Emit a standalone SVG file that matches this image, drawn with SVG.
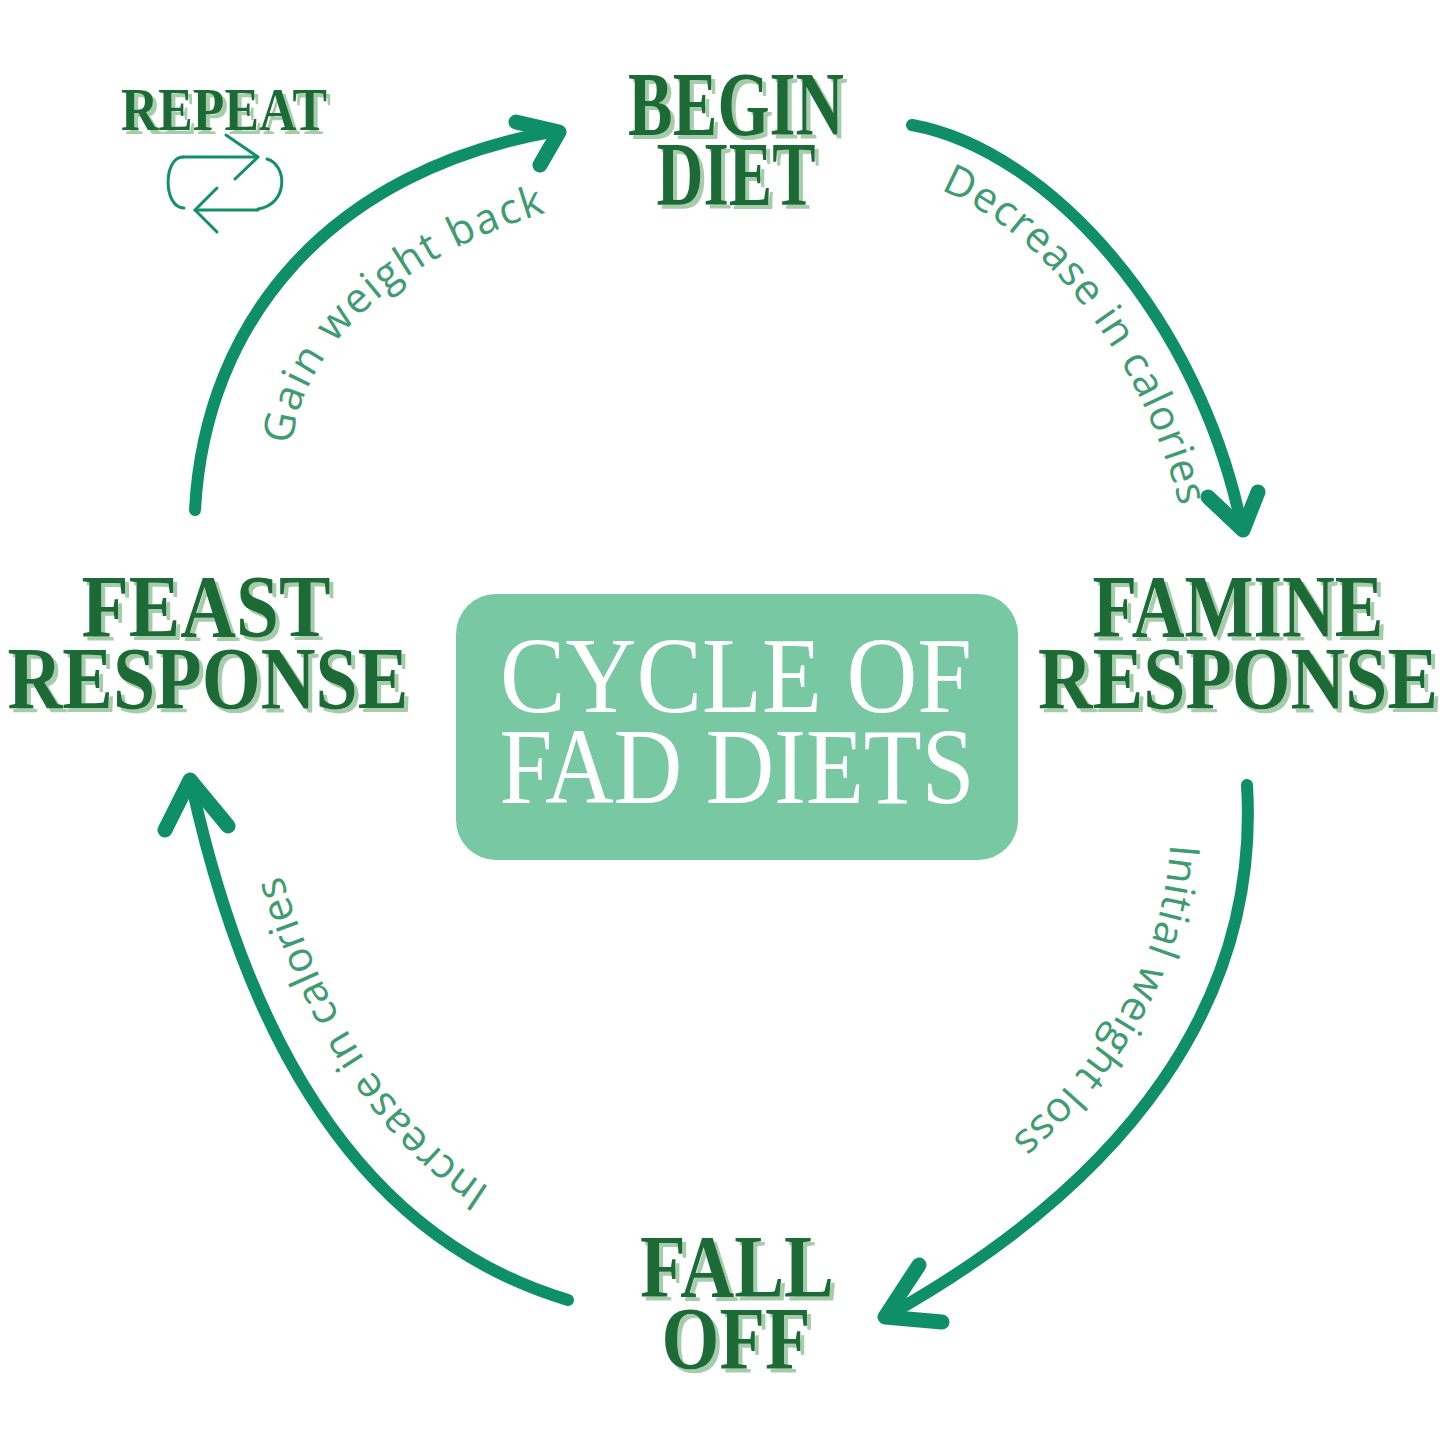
<svg xmlns="http://www.w3.org/2000/svg" width="1454" height="1454" viewBox="0 0 1454 1454">
<defs>
<style>
.ttl{font-family:"Liberation Serif",serif;font-weight:bold;fill:#1f6b36;text-anchor:middle;filter:url(#shadow)}
.ctr{font-family:"Liberation Serif",serif;fill:#ffffff;text-anchor:middle}
.lbl{font-family:"Open Sans","Noto Sans",sans-serif;font-size:42px;fill:#3f9b72}
.arr{fill:none;stroke:#0f8f68;stroke-width:12;stroke-linecap:round;stroke-linejoin:round}
.head{fill:none;stroke:#0f8f68;stroke-width:15;stroke-linecap:round;stroke-linejoin:round}
.ico{fill:none;stroke:#12906a;stroke-width:3;stroke-linecap:round;stroke-linejoin:round}
</style>
<filter id="shadow" x="-5%" y="-10%" width="115%" height="130%">
<feOffset in="SourceAlpha" dx="4" dy="4" result="o"/>
<feFlood flood-color="#a6cdab"/>
<feComposite in2="o" operator="in" result="s"/>
<feMerge><feMergeNode in="s"/><feMergeNode in="SourceGraphic"/></feMerge>
</filter>
<path id="p1" d="M292,445 C300,360 380,262 548,212 L620,191"/>
<path id="p2" d="M902,179 C1020,200 1150,350 1186,535"/>
<path id="p3" d="M1170,789 C1183,990 1060,1135 848,1250"/>
<path id="p4" d="M588,1233 C433,1186 313,1051 252,760"/>
</defs>
<rect width="1454" height="1454" fill="#ffffff"/>

<g id="connectors">
<path class="arr" d="M195,510 C205,320 330,170 556,131"/>
<path class="head" d="M516,122 L559,132 L540,165"/>
<path class="arr" d="M912,125 C1050,150 1200,320 1242,528"/>
<path class="head" d="M1208,497 L1243,530 L1258,492"/>
<path class="arr" d="M1247,785 C1260,1000 1130,1180 887,1316"/>
<path class="head" d="M919,1265 L885,1317 L942,1322"/>
<path class="arr" d="M568,1300 C400,1250 260,1100 191,782"/>
<path class="head" d="M165,830 L190,780 L228,826"/>
<text class="lbl" letter-spacing="2"><textPath href="#p1" startOffset="0">Gain weight back</textPath></text>
<text class="lbl" letter-spacing="1"><textPath href="#p2" startOffset="40">Decrease in calories</textPath></text>
<text class="lbl" letter-spacing="0.5"><textPath href="#p3" startOffset="55">Initial weight loss</textPath></text>
<text class="lbl" letter-spacing="0.5"><textPath href="#p4" startOffset="108">Increase in calories</textPath></text>
</g>

<g id="repeat">
<text class="ttl" x="224" y="130" font-size="62" textLength="206" lengthAdjust="spacingAndGlyphs">REPEAT</text>
<path class="ico" d="M183,157 C163,157 163,208 184,208"/>
<path class="ico" d="M183,157 H257"/>
<path class="ico" d="M226,135 L258,157 L235,179"/>
<path class="ico" d="M267,159 C288,165 288,205 258,209"/>
<path class="ico" d="M195,210 H258"/>
<path class="ico" d="M217,188 L195,210 L217,232"/>
</g>

<g id="begin-diet">
<text class="ttl" x="736" y="135" font-size="90" textLength="216" lengthAdjust="spacingAndGlyphs">BEGIN</text>
<text class="ttl" x="736" y="205" font-size="90" textLength="159" lengthAdjust="spacingAndGlyphs">DIET</text>
</g>

<g id="famine-response">
<text class="ttl" x="1238" y="636" font-size="88" textLength="291" lengthAdjust="spacingAndGlyphs">FAMINE</text>
<text class="ttl" x="1238" y="708" font-size="88" textLength="400" lengthAdjust="spacingAndGlyphs">RESPONSE</text>
</g>

<g id="fall-off">
<text class="ttl" x="737" y="1296" font-size="88" textLength="194" lengthAdjust="spacingAndGlyphs">FALL</text>
<text class="ttl" x="736" y="1368" font-size="88" textLength="149" lengthAdjust="spacingAndGlyphs">OFF</text>
</g>

<g id="feast-response">
<text class="ttl" x="206" y="636" font-size="88" textLength="249" lengthAdjust="spacingAndGlyphs">FEAST</text>
<text class="ttl" x="208" y="708" font-size="88" textLength="401" lengthAdjust="spacingAndGlyphs">RESPONSE</text>
</g>

<g id="center">
<rect x="456" y="594" width="562" height="266" rx="40" fill="#78c8a3"/>
<text class="ctr" x="736" y="712" font-size="108" textLength="472" lengthAdjust="spacingAndGlyphs">CYCLE OF</text>
<text class="ctr" x="737" y="803" font-size="108" textLength="475" lengthAdjust="spacingAndGlyphs">FAD DIETS</text>
</g>
</svg>
